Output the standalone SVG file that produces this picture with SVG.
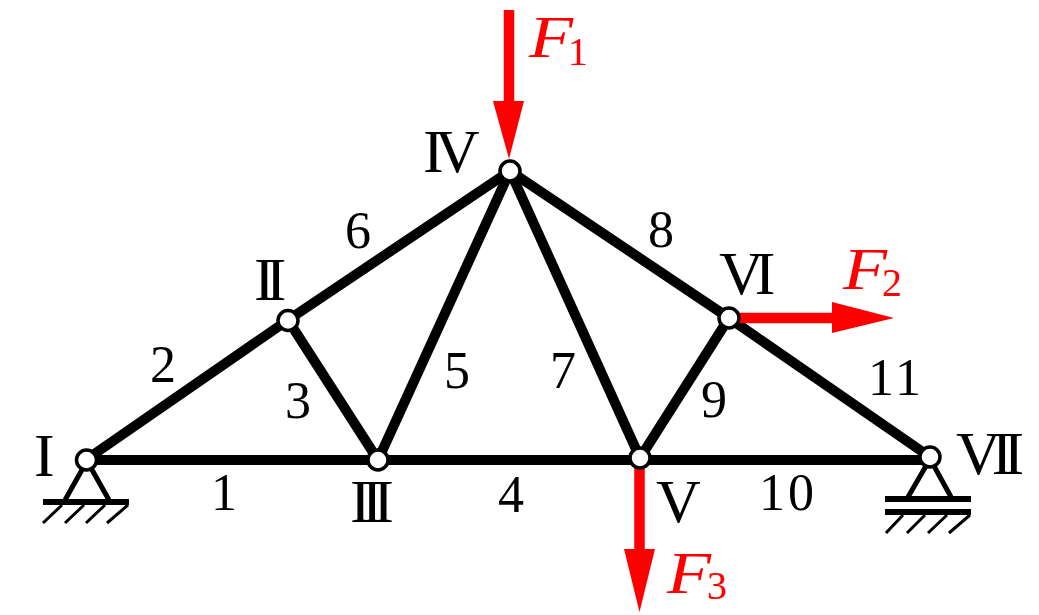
<svg xmlns="http://www.w3.org/2000/svg" width="1039" height="615" viewBox="0 0 1039 615">
<style>
.m{stroke:#000;stroke-width:10;stroke-linecap:butt;fill:none}
.l{stroke:#000;stroke-width:5;fill:none}
.b{stroke:#000;stroke-width:6;fill:none}
.h{stroke:#000;stroke-width:3;fill:none}
.j{fill:#fff;stroke:#000;stroke-width:3.500}
.f{stroke:#f00;stroke-width:10.500;fill:none}
.a{fill:#f00}
text{font-family:"Liberation Serif","Times New Roman",serif;font-size:52px;fill:#000;text-anchor:middle}
.w{letter-spacing:3px}
.r{font-size:62px;letter-spacing:-9px;text-anchor:start}
.F{fill:#f00;font-style:italic;font-size:60px;text-anchor:start}
.s{fill:#f00;font-size:40px;text-anchor:start}
</style>
<rect width="1039" height="615" fill="#fff"/>
<g id="connectors">
<path class="m" d="M87 460H930"/>
<path class="m" d="M87 459L288 320L510 171L729 318L930 457"/>
<path class="m" d="M288 320L378 460L510 171L640 458L729 318"/>
<path class="f" d="M509 10V102"/>
<path class="a" d="M493 101H524L509 159Z"/>
<path class="f" d="M739 318H834"/>
<path class="a" d="M832 302L894 318L832 333Z"/>
<path class="f" d="M639.500 467V551"/>
<path class="a" d="M624 549H655L639.500 612Z"/>
</g>
<g id="support-left">
<path class="l" d="M83 468L65 500M91 468L109 500"/>
<path class="b" d="M43 502H129"/>
<path class="h" d="M62 505L43 523M84 505L65 523M105 505L86 523M128 505L107 523"/>
</g>
<g id="support-right">
<path class="l" d="M926 466L908 497M934 466L951 497"/>
<path class="b" d="M885 499H971M885 512H971"/>
<path class="h" d="M903 515L886 533M925 515L907 533M947 515L928 533M970 515L949 533"/>
</g>
<g id="node-I"><circle class="j" cx="86.500" cy="460" r="10"/><text class="r" x="34" y="476">I</text></g>
<g id="node-II"><circle class="j" cx="288" cy="320.500" r="10"/><text class="r" x="254" y="300">II</text></g>
<g id="node-III"><circle class="j" cx="378" cy="460" r="10"/><text class="r" x="350" y="522">III</text></g>
<g id="node-IV"><circle class="j" cx="510" cy="171" r="10"/><text class="r" x="423" y="172">IV</text></g>
<g id="node-V"><circle class="j" cx="640" cy="458" r="10"/><text class="r" x="656" y="522">V</text></g>
<g id="node-VI"><circle class="j" cx="729" cy="318" r="10"/><text class="r" x="719" y="294">VI</text></g>
<g id="node-VII"><circle class="j" cx="930" cy="457" r="10"/><text class="r" x="956" y="474">VII</text></g>
<g id="labels">
<text x="224" y="510">1</text>
<text x="163" y="382">2</text>
<text x="298" y="418">3</text>
<text x="511" y="512">4</text>
<text x="457" y="388">5</text>
<text x="358" y="248">6</text>
<text x="563" y="388">7</text>
<text x="661" y="247">8</text>
<text x="714" y="417">9</text>
<text class="w" x="788" y="510">10</text>
<text class="w" x="896" y="395">11</text>
<text class="F" x="529" y="57" textLength="44" lengthAdjust="spacingAndGlyphs">F</text><text class="s" x="568" y="65">1</text>
<text class="F" x="843" y="289" textLength="44" lengthAdjust="spacingAndGlyphs">F</text><text class="s" x="882" y="296">2</text>
<text class="F" x="667" y="593" textLength="44" lengthAdjust="spacingAndGlyphs">F</text><text class="s" x="707" y="599">3</text>
</g>
</svg>
